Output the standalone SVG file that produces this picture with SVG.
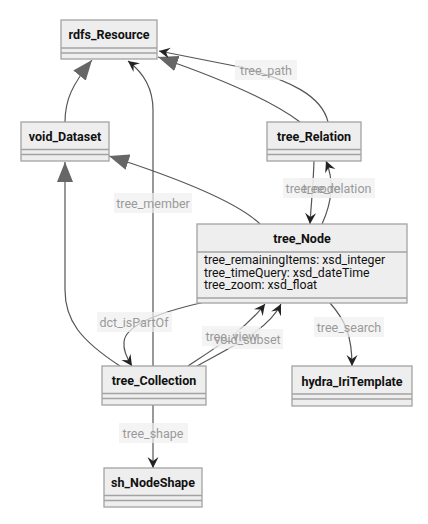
<svg xmlns="http://www.w3.org/2000/svg" width="428" height="524" viewBox="0 0 428 524">
<style>
.box{fill:#eeeeee;stroke:#a3a3a3;stroke-width:1.3}
.div{stroke:#a3a3a3;stroke-width:1.3}
.title{font-family:Roboto,"Liberation Sans",sans-serif;font-size:12.5px;font-weight:bold;fill:#111;text-anchor:middle}
.attr{font-family:Roboto,"Liberation Sans",sans-serif;font-size:12.3px;fill:#111}
.edge{fill:none;stroke:#555;stroke-width:1.2}
.lbg{fill:#f0f0f0;opacity:0.7}
.lbl{font-family:Roboto,"Liberation Sans",sans-serif;font-size:12.5px;fill:#9a9a9a;text-anchor:middle}
</style>
<defs>
<marker id="ext" markerUnits="userSpaceOnUse" viewBox="0 0 20 16" markerWidth="20" markerHeight="16" refX="20" refY="8" orient="auto">
<path d="M0,0 L20,8 L0,16 z" fill="#666"/>
</marker>
<marker id="arr" markerUnits="userSpaceOnUse" viewBox="0 0 12 12" markerWidth="12" markerHeight="12" refX="11" refY="6" orient="auto">
<path d="M0,0.5 L11,6 L0,11.5 L4,6 z" fill="#222"/>
</marker>
</defs>

<g id="connectors">
<path class="edge" d="M65,122 C65,100 72,85 92,60" marker-end="url(#ext)"/>
<path class="edge" d="M300,122 Q260,92 158,57" marker-end="url(#ext)"/>
<path class="edge" d="M328,122 C322,96 290,80 240,67 L159,51" marker-end="url(#arr)"/>
<path class="edge" d="M260,224 Q230,195 109,156" marker-end="url(#ext)"/>
<path class="edge" d="M153,366 L153,110 C153,85 140,70 128,61" marker-end="url(#arr)"/>
<path class="edge" d="M120,366 C80,340 65,320 65,290 L65,162" marker-end="url(#ext)"/>
<path class="edge" d="M314,161 C313,190 311,205 310,224" marker-end="url(#arr)"/>
<path class="edge" d="M322,224 C333,200 334,180 326,161" marker-end="url(#arr)"/>
<path class="edge" d="M205,302 C160,312 125,325 124,342 C123,352 128,360 132,366" marker-end="url(#arr)"/>
<path class="edge" d="M188,366 C215,348 245,330 265,304" marker-end="url(#arr)"/>
<path class="edge" d="M197,366 C235,345 268,330 281,304" marker-end="url(#arr)"/>
<path class="edge" d="M330,303 C345,320 352,335 352,366" marker-end="url(#arr)"/>
<path class="edge" d="M153,405 L153,468" marker-end="url(#arr)"/>

<rect class="lbg" x="235" y="60" width="62" height="20"/>
<rect class="lbg" x="114" y="193" width="78" height="20"/>
<rect class="lbg" x="283" y="178" width="60" height="20"/>
<rect class="lbg" x="300" y="178" width="75" height="20"/>
<rect class="lbg" x="97" y="312" width="75" height="20"/>
<rect class="lbg" x="202" y="326" width="59" height="20"/>
<rect class="lbg" x="212" y="329" width="71" height="20"/>
<rect class="lbg" x="314" y="317" width="70" height="20"/>
<rect class="lbg" x="119" y="423" width="69" height="20"/>

<text class="lbl" x="266" y="74.5">tree_path</text>
<text class="lbl" x="153" y="207.5">tree_member</text>
<text class="lbl" x="313" y="192.5">tree_node</text>
<text class="lbl" x="337" y="192.5">tree_relation</text>
<text class="lbl" x="134" y="326.5">dct_isPartOf</text>
<text class="lbl" x="231.5" y="340.5">tree_view</text>
<text class="lbl" x="247.5" y="343.5">void_subset</text>
<text class="lbl" x="349" y="331.5">tree_search</text>
<text class="lbl" x="153" y="437.5">tree_shape</text>
</g>

<g id="rdfs_Resource">
<rect class="box" x="61" y="20" width="96" height="39"/>
<line class="div" x1="61" y1="48" x2="157" y2="48"/>
<line class="div" x1="61" y1="53" x2="157" y2="53"/>
<text class="title" x="109" y="39">rdfs_Resource</text>
</g>

<g id="void_Dataset">
<rect class="box" x="21" y="122" width="88" height="39"/>
<line class="div" x1="21" y1="149.5" x2="109" y2="149.5"/>
<line class="div" x1="21" y1="154.5" x2="109" y2="154.5"/>
<text class="title" x="65" y="141">void_Dataset</text>
</g>

<g id="tree_Relation">
<rect class="box" x="267" y="122" width="94" height="39"/>
<line class="div" x1="267" y1="149.5" x2="361" y2="149.5"/>
<line class="div" x1="267" y1="154.5" x2="361" y2="154.5"/>
<text class="title" x="314" y="141">tree_Relation</text>
</g>

<g id="tree_Node">
<rect class="box" x="197" y="224" width="210" height="79"/>
<line class="div" x1="197" y1="252" x2="407" y2="252"/>
<line class="div" x1="197" y1="298" x2="407" y2="298"/>
<text class="title" x="302" y="242.5">tree_Node</text>
<text class="attr" x="204" y="264">tree_remainingItems: xsd_integer</text>
<text class="attr" x="204" y="276.5">tree_timeQuery: xsd_dateTime</text>
<text class="attr" x="204" y="289">tree_zoom: xsd_float</text>
</g>

<g id="tree_Collection">
<rect class="box" x="102" y="366" width="104" height="39"/>
<line class="div" x1="102" y1="393.5" x2="206" y2="393.5"/>
<line class="div" x1="102" y1="398.5" x2="206" y2="398.5"/>
<text class="title" x="154" y="385">tree_Collection</text>
</g>

<g id="hydra_IriTemplate">
<rect class="box" x="292" y="366" width="120" height="40"/>
<line class="div" x1="292" y1="394" x2="412" y2="394"/>
<line class="div" x1="292" y1="399" x2="412" y2="399"/>
<text class="title" x="352" y="385.5">hydra_IriTemplate</text>
</g>

<g id="sh_NodeShape">
<rect class="box" x="104" y="468" width="98" height="39"/>
<line class="div" x1="104" y1="495.5" x2="202" y2="495.5"/>
<line class="div" x1="104" y1="500.5" x2="202" y2="500.5"/>
<text class="title" x="153" y="487">sh_NodeShape</text>
</g>
</svg>
